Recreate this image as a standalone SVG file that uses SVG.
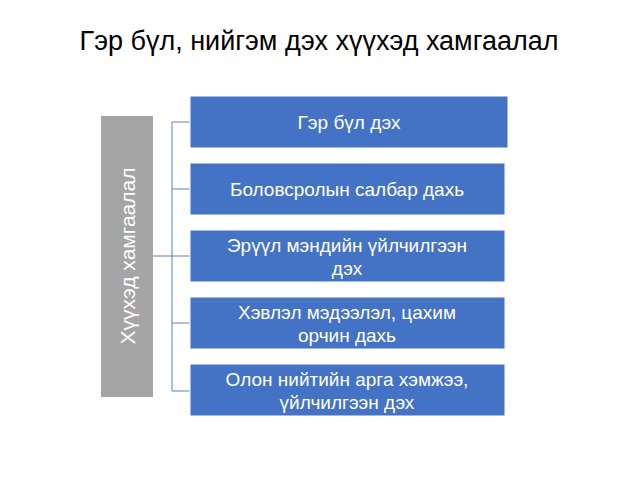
<svg xmlns="http://www.w3.org/2000/svg" width="638" height="478" viewBox="0 0 638 478">
<style>
.b{fill:#4472c4;stroke:#fff;stroke-width:1}
.t{font-family:"Liberation Sans",Arial,sans-serif;font-size:19px;fill:#fff;text-anchor:middle}
.c{stroke:#5b7fc4;stroke-width:1;fill:none}
</style>
<rect width="638" height="478" fill="#fff"/>
<text x="319" y="50" font-family="Liberation Sans,Arial,sans-serif" font-size="27" fill="#000" text-anchor="middle">Гэр бүл, нийгэм дэх хүүхэд хамгаалал</text>
<g id="root"><rect x="101" y="116" width="52" height="281" fill="#a5a5a5"/>
<text class="t" font-size="21" transform="translate(135,256) rotate(-90)" style="font-size:21px">Хүүхэд хамгаалал</text></g>
<g id="connectors" class="c">
<path d="M153 256H172M172 122V391M172 122H190M172 189H190M172 256H190M172 323H190M172 391H190"/>
</g>
<g id="n1"><rect class="b" x="190" y="96" width="318" height="52"/><text class="t" x="349" y="129">Гэр бүл дэх</text></g>
<g id="n2"><rect class="b" x="190" y="163" width="315" height="52"/><text class="t" x="347" y="196">Боловсролын салбар дахь</text></g>
<g id="n3"><rect class="b" x="190" y="230" width="315" height="52"/><text class="t" x="347" y="252">Эрүүл мэндийн үйлчилгээн</text><text class="t" x="347" y="275">дэх</text></g>
<g id="n4"><rect class="b" x="190" y="297" width="315" height="52"/><text class="t" x="347" y="319">Хэвлэл мэдээлэл, цахим</text><text class="t" x="347" y="342">орчин дахь</text></g>
<g id="n5"><rect class="b" x="190" y="364" width="315" height="52"/><text class="t" x="347" y="386">Олон нийтийн арга хэмжээ,</text><text class="t" x="347" y="409">үйлчилгээн дэх</text></g>
</svg>
